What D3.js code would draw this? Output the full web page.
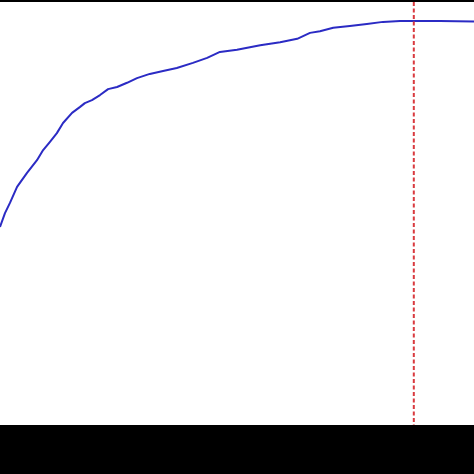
<!DOCTYPE html>
<html>
<head>
<meta charset="utf-8">
<script src="https://cdn.jsdelivr.net/npm/d3@7"></script>
<style>
html,body{margin:0;padding:0;background:#fff;}
svg{display:block;}
</style>
</head>
<body>
<svg id="chart" width="474" height="474"></svg>
<script>
const epochs = [0,1.05,2.1,3.6,5.7,7.8,9.1,10.5,12.0,13.3,15.2,16.9,17.9,19.4,21.1,22.8,24.7,26.8,28.9,31.6,34.4,37.3,40.7,43.7,46.4,50.0,54.9,59.1,62.7,65.4,67.5,70.3,73.8,77.4,80.8,84.4,87.1,92.8,100];
const accuracy = [0.468,0.501,0.525,0.563,0.596,0.626,0.650,0.669,0.690,0.714,0.738,0.752,0.761,0.768,0.780,0.794,0.799,0.809,0.820,0.830,0.837,0.844,0.856,0.868,0.882,0.887,0.898,0.905,0.913,0.927,0.931,0.939,0.943,0.948,0.953,0.955,0.955,0.955,0.954];
const markerEpoch = [87.3];

(function(){
const W = 474, H = 474;
const plotTop = 2, plotBottom = 425;
const svg = d3.select("#chart");

const x = d3.scaleLinear().domain([0, 100]).range([0, W]);
const y = d3.scaleLinear().domain([0, 1]).range([plotBottom, plotTop]);

svg.append("rect").attr("x",0).attr("y",0).attr("width",W).attr("height",H).attr("fill","#fff");

const data = epochs.map((e,i)=>({e, a: accuracy[i]}));

svg.append("path")
  .datum(data)
  .attr("fill","none")
  .attr("stroke","#2b2bc4")
  .attr("stroke-width",2)
  .attr("stroke-linejoin","round")
  .attr("d", d3.line().x(d=>x(d.e)).y(d=>y(d.a)));

svg.selectAll("line.marker").data(markerEpoch).join("line")
  .attr("class","marker")
  .attr("x1", d=>x(d)).attr("x2", d=>x(d))
  .attr("y1", plotTop).attr("y2", plotBottom)
  .attr("stroke","#d93a3f")
  .attr("stroke-width",2)
  .attr("stroke-dasharray","4,2.5");

svg.append("rect").attr("x",0).attr("y",0).attr("width",W).attr("height",plotTop).attr("fill","#000");
svg.append("rect").attr("x",0).attr("y",plotBottom).attr("width",W).attr("height",H-plotBottom).attr("fill","#000");
})();
</script>
</body>
</html>
